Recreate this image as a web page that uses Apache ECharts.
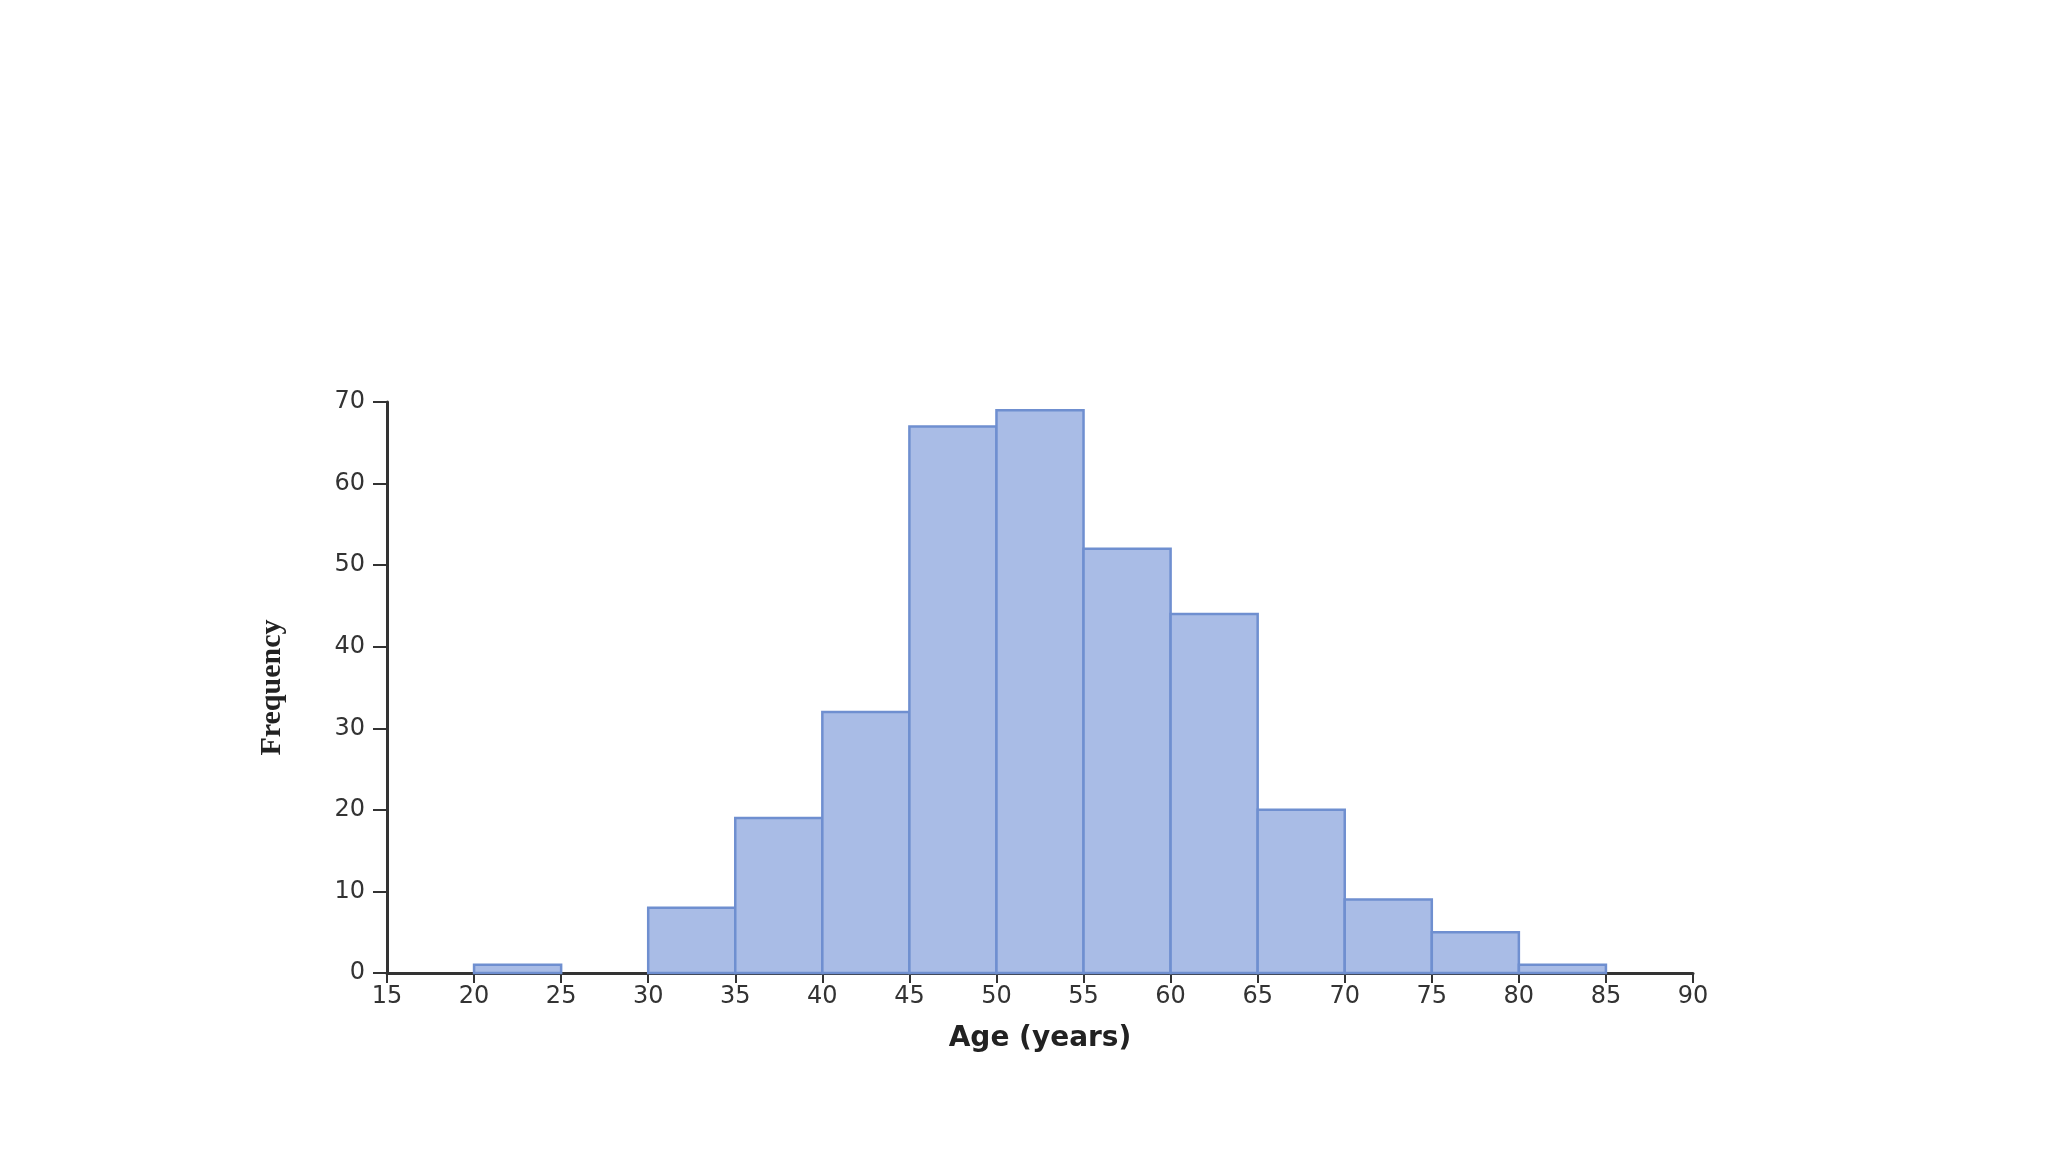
<!DOCTYPE html>
<html>
<head>
<meta charset="utf-8">
<script src="https://cdn.jsdelivr.net/npm/echarts@6/dist/echarts.min.js"></script>
<style>html,body{margin:0;background:#fff}#main{width:2048px;height:1152px}</style>
</head>
<body>
<div id="main"></div>
<script>
// age bins (lower edge, upper edge) and counts
var binStart = [20, 30, 35, 40, 45, 50, 55, 60, 65, 70, 75, 80];
var binEnd   = [25, 35, 40, 45, 50, 55, 60, 65, 70, 75, 80, 85];
var counts   = [1, 8, 19, 32, 67, 69, 52, 44, 20, 9, 5, 1];

var chart = echarts.init(document.getElementById('main'));
var font = 'DejaVu Sans';

var option = {
    animation: false,
    grid: { left: 387, right: 355, top: 402, bottom: 179 },
    xAxis: {
        type: 'value', min: 15, max: 90, interval: 5,
        name: 'Age (years)', nameLocation: 'middle', nameGap: 52,
        nameTextStyle: { fontFamily: font, fontSize: 28, fontWeight: 'bold', color: '#222' },
        axisLine: { lineStyle: { color: '#333', width: 3 } },
        axisTick: { show: true, length: 10, lineStyle: { color: '#333', width: 2 } },
        axisLabel: { fontFamily: font, fontSize: 24, color: '#333', margin: 12 },
        splitLine: { show: false }
    },
    yAxis: {
        type: 'value', min: 0, max: 70, interval: 10,
        name: 'Frequency', nameLocation: 'middle', nameGap: 100, nameRotate: 90,
        nameTextStyle: { fontFamily: 'Liberation Sans Narrow', fontSize: 30, fontWeight: 'bold', color: '#222' },
        axisLine: { show: true, lineStyle: { color: '#333', width: 3 } },
        axisTick: { show: true, length: 14, lineStyle: { color: '#333', width: 2 } },
        axisLabel: { fontFamily: font, fontSize: 24, color: '#333', margin: 22 },
        splitLine: { show: false }
    },
    series: [{
        type: 'custom',
        data: binStart.map(function (s, i) { return [s, binEnd[i], counts[i]]; }),
        renderItem: function (params, api) {
            var p0 = api.coord([api.value(0), api.value(2)]);
            var p1 = api.coord([api.value(1), 0]);
            return {
                type: 'rect',
                shape: { x: p0[0], y: p0[1], width: p1[0] - p0[0], height: p1[1] - p0[1] },
                style: { fill: '#a9bce6', stroke: '#6f8fd0', lineWidth: 2.5 }
            };
        }
    }]
};

chart.setOption(option);
</script>
</body>
</html>
